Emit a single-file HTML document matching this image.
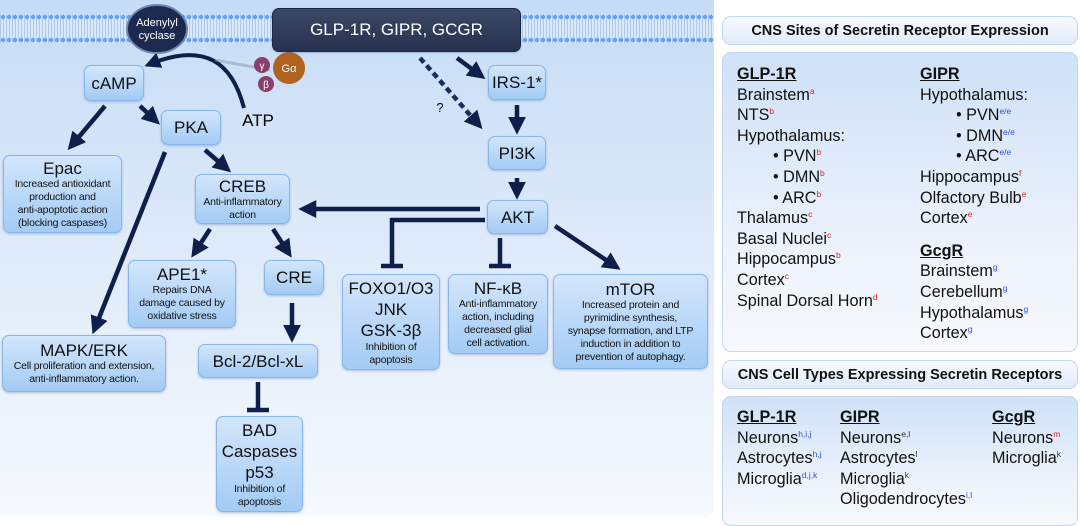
<!DOCTYPE html>
<html><head><meta charset="utf-8"><style>
*{margin:0;padding:0;box-sizing:border-box}
body{width:1080px;height:517px;background:#fff;position:relative;overflow:hidden;font-family:"Liberation Sans",sans-serif;color:#111}
#left{position:absolute;left:0;top:0;width:714px;height:517px;background:linear-gradient(#c6dcf6,#e4eefa 60%,#f6f9fd);border-bottom-right-radius:10px}
.mem{position:absolute;left:0;top:14px;width:714px;height:29px;background:
radial-gradient(circle at 3px 3px,#6aa3e6 2px,transparent 2.5px) 0 0/6px 6px repeat-x,
radial-gradient(circle at 3px 3px,#6aa3e6 2px,transparent 2.5px) 0 23px/6px 6px repeat-x,
repeating-linear-gradient(90deg,#a9c9f0 0 1px,#dbe8f8 1px 3px);background-color:#dbe8f8}
.b{position:absolute;border:1.5px solid #86b6ec;border-radius:7px;background:linear-gradient(#d3e6fc,#a3cbf4);text-align:center;display:flex;flex-direction:column;justify-content:center;box-shadow:0 1px 2px rgba(80,120,180,.4);padding:0 1px}
.t{font-size:17px;line-height:19px}
.s{font-size:10.5px;line-height:13px;letter-spacing:-0.2px}
svg{position:absolute;left:0;top:0}
.rp{position:absolute;left:722px;width:356px;border:1.5px solid #c3d8f2;border-radius:9px}
.hd{background:linear-gradient(#f6f9fe,#e0ecfa);font-weight:bold;font-size:14.5px;display:flex;align-items:center;justify-content:center;white-space:nowrap}
.bx{background:linear-gradient(#cfe1f7,#eef4fc 70%,#f6f9fd)}
.col{position:absolute;font-size:16.2px;line-height:20.6px;white-space:nowrap}
.col u{font-weight:bold}
.col sup{font-size:8.5px;color:#e02020;vertical-align:6px;line-height:0}
.col sup.bl{color:#3050e0}
.ind{padding-left:36px}
</style></head><body>
<div id="left"></div>
<div class="mem"></div>
<svg width="1080" height="517">
<defs><marker id="a" markerWidth="4" markerHeight="4" refX="2.5" refY="2" orient="auto"><path d="M0,0L4,2L0,4z" fill="#0d1f4a"/></marker></defs>
<g stroke="#0d1f4a" stroke-width="4.5" fill="none" marker-end="url(#a)">
<line x1="105" y1="106" x2="72" y2="145"/>
<line x1="140" y1="106" x2="155" y2="120"/>
<line x1="165" y1="152" x2="95" y2="328"/>
<line x1="205" y1="150" x2="226" y2="168"/>
<line x1="210" y1="229" x2="195" y2="252"/>
<line x1="273" y1="229" x2="288" y2="252"/>
<line x1="292" y1="303" x2="292" y2="336"/>
<line x1="480" y1="209" x2="305" y2="209"/>
<line x1="457" y1="58" x2="480" y2="75"/>
<line x1="517" y1="105" x2="517" y2="128"/>
<line x1="517" y1="178" x2="517" y2="193"/>
<line x1="555" y1="226" x2="615" y2="266"/>
<path d="M244,108 C232,62 205,42 150,64" stroke-width="4"/>
</g>
<line x1="420" y1="58" x2="478" y2="124" stroke="#1a2d5c" stroke-width="4.5" stroke-dasharray="6,4" marker-end="url(#a)"/>
<line x1="270" y1="70" x2="215" y2="60" stroke="#8899aa" stroke-width="3" opacity=".5"/>
<g stroke="#0d1f4a" stroke-width="4.5" fill="none">
<path d="M485,220 H392 V266"/><line x1="381" y1="266" x2="403" y2="266"/>
<line x1="500" y1="238" x2="500" y2="266"/><line x1="489" y1="266" x2="511" y2="266"/>
<line x1="258" y1="382" x2="258" y2="410"/><line x1="247" y1="410" x2="269" y2="410"/>
</g>
<ellipse cx="157" cy="29" rx="30" ry="24" fill="#1c2a50" stroke="#6f86b5" stroke-width="2"/>
<text x="157" y="26" fill="#fff" font-size="11" text-anchor="middle" font-family="Liberation Sans">Adenylyl</text>
<text x="157" y="39" fill="#fff" font-size="11" text-anchor="middle" font-family="Liberation Sans">cyclase</text>
<circle cx="262" cy="65" r="8" fill="#8a3f6a"/><circle cx="266" cy="84" r="8" fill="#8a3f6a"/>
<circle cx="289" cy="68" r="16" fill="#b0621f"/>
<text x="262" y="69" fill="#fff" font-size="10" text-anchor="middle">γ</text>
<text x="266" y="88" fill="#fff" font-size="10" text-anchor="middle">β</text>
<text x="289" y="72" fill="#fff" font-size="11" text-anchor="middle">Gα</text>
<text x="258" y="126" font-size="17" text-anchor="middle" font-family="Liberation Sans">ATP</text>
<text x="440" y="112" font-size="13" text-anchor="middle" font-family="Liberation Sans">?</text>
</svg>
<div class="b" style="left:272px;top:8px;width:249px;height:44px;background:linear-gradient(#3b4866,#26324f);border-color:#1c2640;color:#fff;font-size:17px">GLP-1R, GIPR, GCGR</div>
<div class="b t" style="left:84px;top:65px;width:60px;height:36px">cAMP</div>
<div class="b t" style="left:161px;top:110px;width:60px;height:35px">PKA</div>
<div class="b t" style="left:488px;top:65px;width:58px;height:35px">IRS-1*</div>
<div class="b t" style="left:488px;top:136px;width:58px;height:34px">PI3K</div>
<div class="b t" style="left:487px;top:200px;width:61px;height:34px">AKT</div>
<div class="b" style="left:3px;top:155px;width:119px;height:78px"><div class="t">Epac</div><div class="s">Increased antioxidant<br>production and<br>anti-apoptotic action<br>(blocking caspases)</div></div>
<div class="b" style="left:195px;top:174px;width:95px;height:50px"><div class="t">CREB</div><div class="s">Anti-inflammatory<br>action</div></div>
<div class="b" style="left:128px;top:260px;width:108px;height:68px"><div class="t">APE1*</div><div class="s">Repairs DNA<br>damage caused by<br>oxidative stress</div></div>
<div class="b t" style="left:264px;top:260px;width:60px;height:35px">CRE</div>
<div class="b" style="left:2px;top:335px;width:164px;height:57px"><div class="t">MAPK/ERK</div><div class="s">Cell proliferation and extension,<br>anti-inflammatory action.</div></div>
<div class="b t" style="left:198px;top:344px;width:120px;height:34px">Bcl-2/Bcl-xL</div>
<div class="b" style="left:216px;top:416px;width:87px;height:96px"><div class="t" style="line-height:21px">BAD<br>Caspases<br>p53</div><div class="s">Inhibition of<br>apoptosis</div></div>
<div class="b" style="left:342px;top:274px;width:98px;height:96px"><div class="t" style="line-height:21px">FOXO1/O3<br>JNK<br>GSK-3β</div><div class="s">Inhibition of<br>apoptosis</div></div>
<div class="b" style="left:448px;top:274px;width:100px;height:80px"><div class="t">NF-κB</div><div class="s">Anti-inflammatory<br>action, including<br>decreased glial<br>cell activation.</div></div>
<div class="b" style="left:553px;top:274px;width:155px;height:95px"><div class="t">mTOR</div><div class="s">Increased protein and<br>pyrimidine synthesis,<br>synapse formation, and LTP<br>induction in addition to<br>prevention of autophagy.</div></div>

<div class="rp hd" style="top:16px;height:29px">CNS Sites of Secretin Receptor Expression</div>
<div class="rp bx" style="top:52px;height:300px"></div>
<div class="col" style="left:737px;top:64px"><u>GLP-1R</u><br>Brainstem<sup>a</sup><br>NTS<sup>b</sup><br>Hypothalamus:<br><div class="ind">• PVN<sup>b</sup><br>• DMN<sup>b</sup><br>• ARC<sup>b</sup></div>Thalamus<sup>c</sup><br>Basal Nuclei<sup>c</sup><br>Hippocampus<sup>b</sup><br>Cortex<sup>c</sup><br>Spinal Dorsal Horn<sup>d</sup></div>
<div class="col" style="left:920px;top:64px"><u>GIPR</u><br>Hypothalamus:<br><div class="ind">• PVN<sup class="bl">e/e</sup><br>• DMN<sup class="bl">e/e</sup><br>• ARC<sup class="bl">e/e</sup></div>Hippocampus<sup>f</sup><br>Olfactory Bulb<sup>e</sup><br>Cortex<sup>e</sup><br><div style="height:12px"></div><u>GcgR</u><br>Brainstem<sup class="bl">g</sup><br>Cerebellum<sup class="bl">g</sup><br>Hypothalamus<sup class="bl">g</sup><br>Cortex<sup class="bl">g</sup></div>
<div class="rp hd" style="top:360px;height:29px">CNS Cell Types Expressing Secretin Receptors</div>
<div class="rp bx" style="top:396px;height:130px"></div>
<div class="col" style="left:737px;top:407px"><u>GLP-1R</u><br>Neurons<sup class="bl">h,i,j</sup><br>Astrocytes<sup class="bl">h,j</sup><br>Microglia<sup class="bl">d,j,k</sup></div>
<div class="col" style="left:840px;top:407px"><u>GIPR</u><br>Neurons<sup style="color:#333">e,l</sup><br>Astrocytes<sup style="color:#333">l</sup><br>Microglia<sup style="color:#333">k</sup><br>Oligodendrocytes<sup class="bl">i,l</sup></div>
<div class="col" style="left:992px;top:407px"><u>GcgR</u><br>Neurons<sup>m</sup><br>Microglia<sup style="color:#333">k</sup></div>
</body></html>
